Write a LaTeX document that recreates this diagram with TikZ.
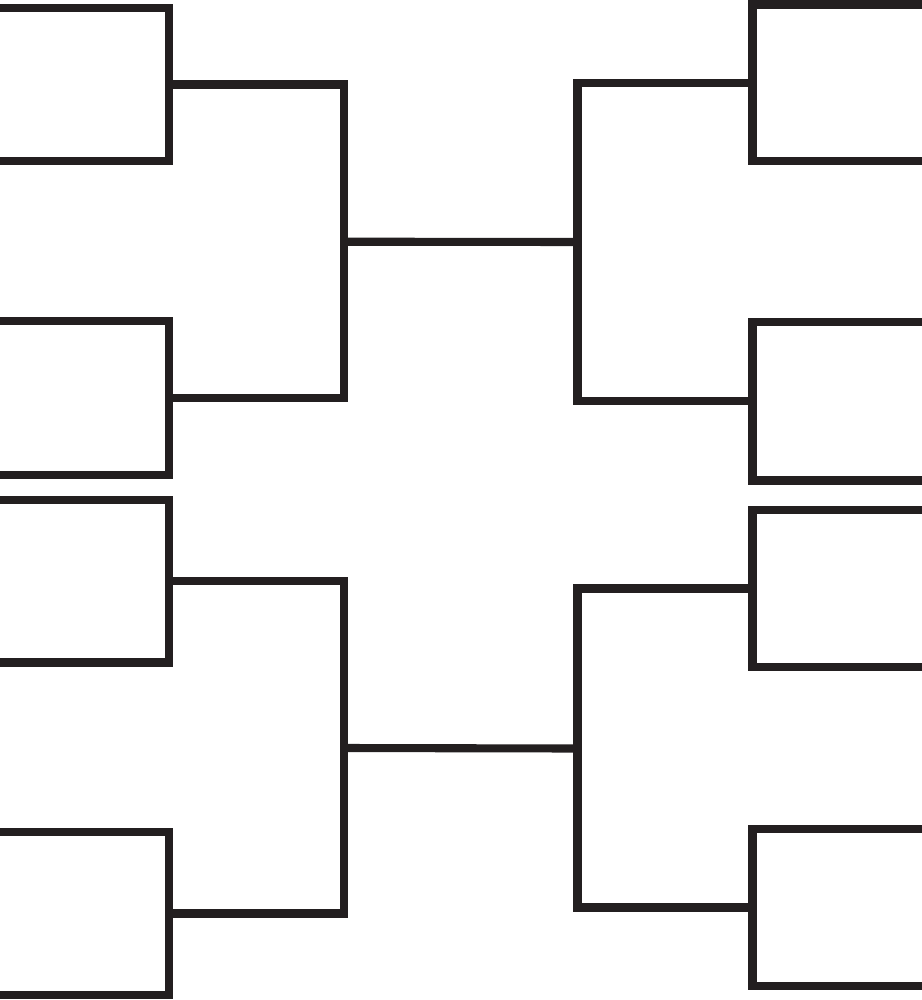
\documentclass[tikz,border=0pt]{standalone}
\usepackage{tikz}
\definecolor{inkline}{RGB}{35,31,32}

\begin{document}
\begin{tikzpicture}[x=0.01cm, y=-0.01cm]
\tikzstyle{bracket}=[draw=inkline, line width=2.3pt, line join=miter]
\useasboundingbox (0,0) rectangle (922,1000);

% left half, first round
\foreach \n/\ya/\yb in {a/8/161, b/321/475, c/500/662.5, d/832/995} {
  \coordinate (L\n-top) at (0,\ya);
  \coordinate (L\n-bot) at (0,\yb);
  \coordinate (L\n-mid) at (169,{(\ya+\yb)/2});
  \draw[bracket] (L\n-top) -| (L\n-mid) |- (L\n-bot);
}

% right half, first round
\foreach \n/\ya/\yb in {a/4.5/161, b/322/480.5, c/510/667, d/829/986} {
  \coordinate (R\n-top) at (922,\ya);
  \coordinate (R\n-bot) at (922,\yb);
  \coordinate (R\n-mid) at (752.5,{(\ya+\yb)/2});
  \draw[bracket] (R\n-top) -| (R\n-mid) |- (R\n-bot);
}

% second round
\coordinate (Lab) at (344,241.7);
\coordinate (Lcd) at (344,748);
\coordinate (Rab) at (577.5,242);
\coordinate (Rcd) at (577.5,748.5);
\draw[bracket] (La-mid) -| (Lab) |- (Lb-mid);
\draw[bracket] (Lc-mid) -| (Lcd) |- (Ld-mid);
\draw[bracket] (Ra-mid) -| (Rab) |- (Rb-mid);
\draw[bracket] (Rc-mid) -| (Rcd) |- (Rd-mid);

% finals
\draw[bracket] (Lab) -- (Rab);
\draw[bracket] (Lcd) -- (Rcd);
\end{tikzpicture}
\end{document}
